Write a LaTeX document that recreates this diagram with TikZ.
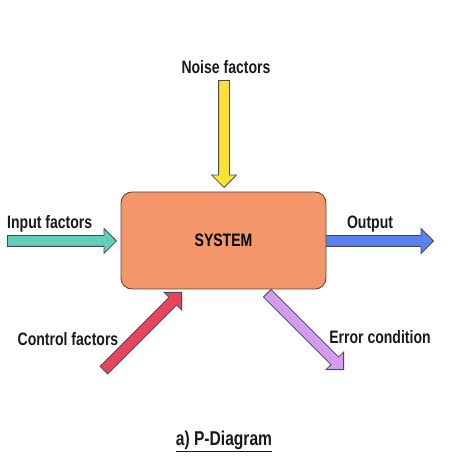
\documentclass[tikz,border=0pt]{standalone}
\usepackage{fontspec}
\setmainfont{Liberation Sans}
\newfontfamily\lblfont[FakeStretch=0.78]{Liberation Sans}
\usetikzlibrary{shapes.arrows}
\definecolor{boxfill}{HTML}{F3966A}
\definecolor{boxline}{HTML}{5A463C}
\definecolor{noisec}{HTML}{FFE033}
\definecolor{inputc}{HTML}{5FD0BA}
\definecolor{outputc}{HTML}{5A82EE}
\definecolor{controlc}{HTML}{E8435C}
\definecolor{errorc}{HTML}{D39CF0}
\definecolor{arrline}{HTML}{4A4A4A}
\tikzset{
  blockarrow/.style={single arrow, draw=arrline, line width=0.8pt, inner sep=0pt,
    minimum width=24pt, single arrow head extend=7pt, single arrow tip angle=90,
    single arrow head indent=0pt, text height=10pt, text depth=0pt, text width=0pt, anchor=tip},
  lbl/.style={font=\lblfont\bfseries\fontsize{18}{18}\selectfont, text=black!90, inner sep=0pt},
}
\begin{document}
\begin{tikzpicture}[x=1pt,y=-1pt]
\useasboundingbox (0,0) rectangle (474,470);
% arrows
\node[blockarrow, fill=noisec, minimum height=107pt, rotate=-90] (noise) at (224,188) {};
\node[blockarrow, fill=inputc, minimum height=109pt] (input) at (117,241) {};
\node[blockarrow, fill=outputc, minimum height=108pt] (output) at (434,241) {};
\node[blockarrow, fill=controlc, minimum height=110pt, rotate=45] (control) at (182,292) {};
\node[blockarrow, fill=errorc, minimum height=108pt, rotate=-45] (error) at (344,370) {};
% system box
\node[draw=boxline, fill=boxfill, line width=0.9pt, rounded corners=11pt,
      minimum width=205pt, minimum height=97pt, inner sep=0pt,
      font=\lblfont\bfseries\fontsize{18}{18}\selectfont] (sys) at (223.5,240.5) {SYSTEM};
% labels
\node[lbl] (tnoise) at (226,67) {Noise factors};
\node[lbl, anchor=west] (tinput) at (7,224) {Input factors};
\node[lbl] (toutput) at (370,224) {Output};
\node[lbl] (tcontrol) at (68,339) {Control factors};
\node[lbl] (terror) at (380,337) {Error condition};
\node[lbl, font=\lblfont\bfseries\fontsize{20}{20}\selectfont] (cap) at (224,441) {\underline{a) P-Diagram}};
\end{tikzpicture}
\end{document}
